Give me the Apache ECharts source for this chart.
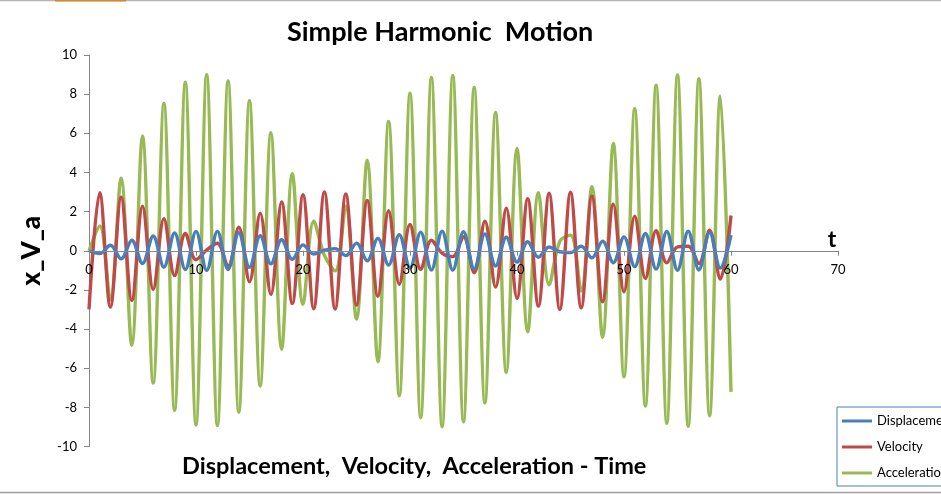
<!DOCTYPE html>
<html><head><meta charset="utf-8">
<script src="https://cdn.jsdelivr.net/npm/echarts@6/dist/echarts.min.js"></script>
<style>html,body{margin:0;padding:0;background:#fff}#c{width:941px;height:494px}</style>
</head><body><div id="c"></div>
<script>
const time = [0,1,2,3,4,5,6,7,8,9,10,11,12,13,14,15,16,17,18,19,20,21,22,23,24,25,26,27,28,29,30,31,32,33,34,35,36,37,38,39,40,41,42,43,44,45,46,47,48,49,50,51,52,53,54,55,56,57,58,59,60];
const displacement = [0,-0.14,0.28,-0.41,0.54,-0.65,0.75,-0.84,0.91,-0.96,0.99,-1.00,0.99,-0.96,0.92,-0.85,0.77,-0.67,0.56,-0.44,0.30,-0.17,0.03,0.11,-0.25,0.39,-0.51,0.63,-0.73,0.82,-0.89,0.95,-0.98,1.00,-0.99,0.97,-0.93,0.86,-0.78,0.69,-0.58,0.46,-0.33,0.19,-0.05,-0.09,0.23,-0.36,0.49,-0.61,0.71,-0.81,0.88,-0.94,0.98,-1.00,1.00,-0.98,0.94,-0.88,0.80];
const velocity = [-3.00,2.97,-2.88,2.73,-2.53,2.28,-1.98,1.64,-1.27,0.88,-0.46,0.04,0.38,-0.80,1.20,-1.58,1.92,-2.23,2.49,-2.70,2.86,-2.96,3.00,-2.98,2.90,-2.77,2.57,-2.33,2.04,-1.71,1.34,-0.95,0.54,-0.12,-0.30,0.72,-1.13,1.51,-1.86,2.17,-2.44,2.66,-2.83,2.94,-3.00,2.99,-2.92,2.80,-2.61,2.38,-2.10,1.77,-1.42,1.03,-0.62,0.20,0.23,-0.65,1.05,-1.44,1.80];
const acceleration = [0,1.27,-2.51,3.71,-4.83,5.85,-6.76,7.53,-8.15,8.61,-8.89,9.00,-8.93,8.67,-8.25,7.66,-6.91,6.03,-5.03,3.93,-2.74,1.51,-0.24,-1.03,2.28,-3.49,4.63,-5.67,6.60,-7.40,8.05,-8.53,8.85,-8.99,8.95,-8.74,8.34,-7.78,7.06,-6.22,5.23,-4.14,2.97,-1.74,0.48,0.80,-2.05,3.27,-4.42,5.48,-6.43,7.26,-7.93,8.46,-8.81,8.98,-8.97,8.79,-8.43,7.90,-7.21];
const seriesNames = ['Displacement','Velocity','Acceleration'];
const seriesColors = ['#4a7ebb','#be4b48','#98b954'];
const chartTitle = 'Simple Harmonic  Motion';
const bottomTitle = 'Displacement,  Velocity,  Acceleration - Time';

const pair = (ys) => time.map((t, i) => [t, ys[i]]);
const font = 'Lato, "Open Sans", sans-serif';
const chart = echarts.init(document.getElementById('c'), null, {renderer: 'canvas'});
const mk = (name, ys, color, z) => ({
  name, type: 'line', data: pair(ys), smooth: 0.35, showSymbol: false, symbol: 'none',
  z, lineStyle: {color, width: 3.4}, itemStyle: {color}, animation: false
});
chart.setOption({
  animation: false,
  title: [
    {text: chartTitle, left: 282, top: 14, textStyle: {fontFamily: font, fontWeight: 'bold', fontSize: 27, color: '#000'}},
    {text: bottomTitle, left: 177, top: 449, textStyle: {fontFamily: font, fontWeight: 'bold', fontSize: 23.5, color: '#000'}}
  ],
  grid: {left: 89, right: 103, top: 55, bottom: 47.5, containLabel: false},
  legend: {
    orient: 'vertical', left: 837, top: 407, itemWidth: 30, itemHeight: 3, itemGap: 12,
    padding: [7, 6, 6, 5], borderColor: '#4a7ebb', borderWidth: 1,
    icon: 'rect', data: seriesNames,
    textStyle: {fontFamily: font, fontSize: 13, color: '#000', lineHeight: 14}
  },
  xAxis: {
    type: 'value', min: 0, max: 70, interval: 10, offset: -195.75, z: 10,
    name: 't', nameLocation: 'end', nameGap: -6,
    nameTextStyle: {fontFamily: font, fontWeight: 'bold', fontSize: 23, color: '#000', align: 'center', verticalAlign: 'bottom'},
    axisLine: {onZero: false, lineStyle: {color: '#868686', width: 1}},
    axisTick: {show: true, length: 5, lineStyle: {color: '#868686'}},
    axisLabel: {fontFamily: font, fontSize: 13, color: '#000', margin: 13},
    splitLine: {show: false}
  },
  yAxis: {
    type: 'value', min: -10, max: 10, interval: 2,
    name: 'x_V_a', nameLocation: 'middle', nameGap: 44, nameRotate: 90,
    nameTextStyle: {fontFamily: font, fontWeight: 900, fontSize: 26, color: '#000'},
    axisLine: {show: true, onZero: false, lineStyle: {color: '#868686', width: 1}},
    axisTick: {show: true, length: 5, lineStyle: {color: '#868686'}},
    axisLabel: {fontFamily: font, fontSize: 13, color: '#000', margin: 12},
    splitLine: {show: false}
  },
  graphic: [
    {type: 'line', shape: {x1: 0, y1: 0.5, x2: 941, y2: 0.5}, style: {stroke: '#b4b4b4', lineWidth: 1.5}, silent: true},
    {type: 'line', shape: {x1: 55, y1: 0.5, x2: 126, y2: 0.5}, style: {stroke: '#d4882a', lineWidth: 2}, silent: true},
    {type: 'line', shape: {x1: 0, y1: 492.5, x2: 941, y2: 492.5}, style: {stroke: '#a0a0a0', lineWidth: 1.5}, silent: true}
  ],
  series: [
    mk(seriesNames[0], displacement, seriesColors[0], 3),
    mk(seriesNames[1], velocity, seriesColors[1], 2),
    mk(seriesNames[2], acceleration, seriesColors[2], 1)
  ]
});
</script></body></html>
